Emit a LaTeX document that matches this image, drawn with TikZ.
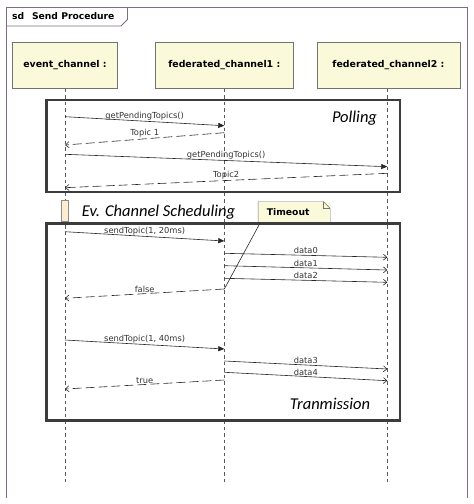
\documentclass[tikz,border=0pt]{standalone}
\usepackage{fontspec}
\setmainfont{DejaVu Sans}
\newfontfamily\calibri{Carlito}
\usetikzlibrary{arrows.meta,calc}

\definecolor{headyellow}{RGB}{250,250,218}
\definecolor{framegray}{RGB}{60,60,60}
\definecolor{outerline}{RGB}{125,108,130}

\begin{document}
\begin{tikzpicture}[x=1pt,y=-1pt]
      \tikzstyle{head}=[rectangle,draw=black!55,fill=headyellow,minimum height=46pt,font=\bfseries\fontsize{9.4}{10}\selectfont]
      \tikzstyle{lifeline}=[draw=black!65,line width=0.6pt,dash pattern=on 3.5pt off 3pt]
      \tikzstyle{fragment}=[draw=framegray,line width=2.8pt]
      \tikzstyle{call}=[draw=black!85,line width=0.6pt,-{Triangle[length=6pt,width=5pt]}]
      \tikzstyle{signal}=[draw=black!85,line width=0.6pt,-{Straight Barb[length=3.5pt,width=6pt]}]
      \tikzstyle{reply}=[draw=black!85,line width=0.6pt,dash pattern=on 9pt off 4pt,-{Straight Barb[length=3.5pt,width=6pt]}]
      \tikzstyle{msg}=[above,inner sep=1pt,text=black!80,font=\fontsize{8.3}{9}\selectfont]
      \tikzstyle{phase}=[inner sep=0pt,font=\calibri\itshape\fontsize{16.5}{18}\selectfont]
      \useasboundingbox (0,0) rectangle (474,504);
      % outer frame and tab
      \draw[outerline,thick] (6,498) -- (6,7) -- (467.5,7) -- (467.5,498);
      \draw[outerline,thick] (6,26) -- (121,26) -- (127.5,19.5) -- (127.5,7);
      \node[anchor=west,inner sep=0pt,font=\bfseries\fontsize{9.2}{10}\selectfont] (title) at (12,16.5) {sd\hspace{0.5em} Send Procedure};
      % lifelines
      \node[head,minimum width=105pt] (ev) at (65,65.3) {event\_channel :};
      \node[head,minimum width=138pt] (fa) at (224.3,65.3) {federated\_channel1 :};
      \node[head,minimum width=142.7pt] (fb) at (388.5,65.3) {federated\_channel2 :};
      \coordinate (evend) at (65,483);
      \coordinate (faend) at (224.3,483);
      \coordinate (fbend) at (387.3,483);
      \draw[lifeline] (ev) -- (evend);
      \draw[lifeline] (fa) -- (faend);
      \draw[lifeline] (fb.south -| fbend) -- (fbend);
      % Polling
      \draw[fragment] (46.7,100) rectangle (400,192);
      \node[phase,anchor=base] (polling) at (354.5,122.3) {Polling};
      \coordinate (ev1) at (ev |- 0,116.7); \coordinate (fa1) at (fa |- 0,125.7);
      \coordinate (fa2) at (fa |- 0,132.7); \coordinate (ev2) at (ev |- 0,145);
      \coordinate (ev3) at (ev |- 0,154.3); \coordinate (fb3) at (fbend |- 0,166.7);
      \coordinate (fb4) at (fbend |- 0,173.3); \coordinate (ev4) at (ev |- 0,187.7);
      \draw[call] (ev1) -- (fa1) node[msg,midway]{getPendingTopics()};
      \draw[reply] (fa2) -- (ev2) node[msg,midway]{Topic 1};
      \draw[call] (ev3) -- (fb3) node[msg,midway]{getPendingTopics()};
      \draw[reply] (fb4) -- (ev4) node[msg,midway]{Topic2};
      % scheduling
      \node[draw=black!45,fill=headyellow!80!orange!60,minimum width=7.6pt,minimum height=21pt,inner sep=0pt] (sched) at (64.5,210.5) {};
      \node[phase,anchor=base west] (schedlabel) at (81.7,216.7) {Ev. Channel Scheduling};
      \node[fill=headyellow,minimum width=71.7pt,minimum height=21pt,inner sep=0pt,font=\bfseries\fontsize{9.2}{10}\selectfont] (timeout) at (294.2,212.2) {\hspace{-12pt}Timeout};
      \draw[black!55] (timeout.south west) -- (timeout.north west) -- ($(timeout.north east)+(-7,0)$) -- ($(timeout.north east)+(0,7)$) -- (timeout.south east) -- cycle;
      \draw[black!55] ($(timeout.north east)+(-7,0)$) -- ($(timeout.north east)+(-7,7)$) -- ($(timeout.north east)+(0,7)$);
      % Tranmission
      \draw[fragment] (46.7,223.3) rectangle (400,420.7);
      \node[phase,anchor=base] (transmission) at (330,409) {Tranmission};
      \coordinate (ev5) at (ev |- 0,231.7); \coordinate (fa5) at (fa |- 0,241);
      \coordinate (fa6) at (fa |- 0,253.3); \coordinate (fb6) at (fbend |- 0,257.3);
      \coordinate (fa7) at (fa |- 0,265.7); \coordinate (fb7) at (fbend |- 0,270);
      \coordinate (fa8) at (fa |- 0,278.3); \coordinate (fb8) at (fbend |- 0,282.3);
      \coordinate (fa9) at (fa |- 0,289); \coordinate (ev9) at (ev |- 0,298.3);
      \coordinate (ev10) at (ev |- 0,340); \coordinate (fa10) at (fa |- 0,349);
      \coordinate (fa11) at (fa |- 0,361); \coordinate (fb11) at (fbend |- 0,369);
      \coordinate (fa12) at (fa |- 0,372.3); \coordinate (fb12) at (fbend |- 0,380.7);
      \coordinate (fa13) at (fa |- 0,380); \coordinate (ev13) at (ev |- 0,389);
      \draw[call] (ev5) -- (fa5) node[msg,midway]{sendTopic(1, 20ms)};
      \draw[signal] (fa6) -- (fb6) node[msg,midway]{data0};
      \draw[signal] (fa7) -- (fb7) node[msg,midway]{data1};
      \draw[signal] (fa8) -- (fb8) node[msg,midway]{data2};
      \draw[reply] (fa9) -- (ev9) node[msg,midway]{false};
      \draw[black!85,line width=0.6pt] ($(timeout.south west)+(2,0)$) -- (fa9);
      \draw[call] (ev10) -- (fa10) node[msg,midway]{sendTopic(1, 40ms)};
      \draw[signal] (fa11) -- (fb11) node[msg,midway]{data3};
      \draw[signal] (fa12) -- (fb12) node[msg,midway]{data4};
      \draw[reply] (fa13) -- (ev13) node[msg,midway]{true};
\end{tikzpicture}
\end{document}
